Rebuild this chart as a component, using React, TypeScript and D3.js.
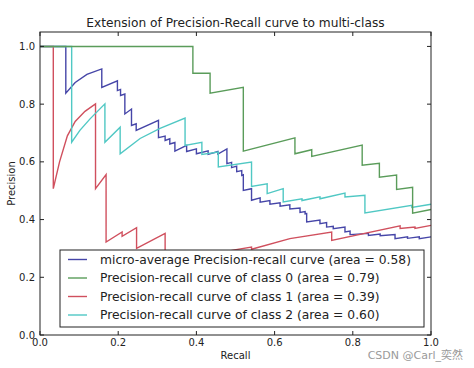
import React from "react";
import * as d3 from "d3";

const W = 474;
const H = 368;

const xTicks = [0, 0.2, 0.4, 0.6, 0.8, 1.0];
const yTicks = [0, 0.2, 0.4, 0.6, 0.8, 1.0];

const microRecall = [0, 0.066, 0.066, 0.09, 0.12, 0.158, 0.158, 0.198, 0.198, 0.206, 0.206, 0.217, 0.217, 0.234, 0.234, 0.246, 0.246, 0.303, 0.303, 0.32, 0.32, 0.332, 0.332, 0.345, 0.345, 0.375, 0.375, 0.4, 0.4, 0.43, 0.43, 0.455, 0.455, 0.478, 0.478, 0.49, 0.49, 0.503, 0.503, 0.516, 0.516, 0.52, 0.52, 0.541, 0.541, 0.563, 0.563, 0.588, 0.588, 0.614, 0.614, 0.639, 0.639, 0.665, 0.665, 0.678, 0.678, 0.682, 0.682, 0.716, 0.716, 0.733, 0.733, 0.75, 0.75, 0.78, 0.78, 0.793, 0.793, 0.84, 0.84, 0.87, 0.87, 0.908, 0.908, 0.94, 0.94, 0.97, 0.97, 1.0];
const microPrecision = [1, 1, 0.838, 0.875, 0.903, 0.922, 0.858, 0.881, 0.847, 0.851, 0.83, 0.835, 0.766, 0.783, 0.726, 0.732, 0.709, 0.744, 0.684, 0.689, 0.674, 0.68, 0.662, 0.667, 0.637, 0.657, 0.636, 0.645, 0.628, 0.638, 0.626, 0.636, 0.627, 0.645, 0.594, 0.598, 0.58, 0.585, 0.566, 0.57, 0.553, 0.555, 0.501, 0.507, 0.467, 0.475, 0.46, 0.466, 0.453, 0.458, 0.446, 0.451, 0.437, 0.44, 0.425, 0.428, 0.42, 0.421, 0.392, 0.398, 0.386, 0.39, 0.374, 0.377, 0.368, 0.374, 0.357, 0.36, 0.348, 0.352, 0.345, 0.35, 0.344, 0.348, 0.334, 0.34, 0.335, 0.34, 0.334, 0.34];

const class0Recall = [0, 0.391, 0.391, 0.435, 0.435, 0.52, 0.52, 0.652, 0.652, 0.695, 0.695, 0.824, 0.824, 0.868, 0.868, 0.912, 0.912, 0.953, 0.953, 1.0];
const class0Precision = [1, 1, 0.907, 0.907, 0.838, 0.858, 0.637, 0.683, 0.628, 0.642, 0.619, 0.658, 0.588, 0.595, 0.547, 0.554, 0.504, 0.512, 0.422, 0.435];

const class1Recall = [0, 0.034, 0.034, 0.05, 0.07, 0.09, 0.115, 0.142, 0.142, 0.169, 0.169, 0.21, 0.21, 0.247, 0.247, 0.32, 0.32, 0.38, 0.38, 0.45, 0.45, 0.494, 0.541, 0.541, 0.639, 0.746, 0.746, 0.921, 0.921, 0.959, 0.959, 1.0];
const class1Precision = [1, 1, 0.507, 0.6, 0.69, 0.74, 0.775, 0.801, 0.507, 0.556, 0.322, 0.357, 0.342, 0.372, 0.3, 0.352, 0.262, 0.28, 0.27, 0.288, 0.28, 0.294, 0.305, 0.297, 0.334, 0.357, 0.328, 0.378, 0.369, 0.374, 0.369, 0.38];

const class2Recall = [0, 0.081, 0.081, 0.102, 0.128, 0.166, 0.166, 0.205, 0.205, 0.256, 0.307, 0.371, 0.371, 0.414, 0.414, 0.456, 0.456, 0.541, 0.541, 0.581, 0.581, 0.622, 0.622, 0.67, 0.67, 0.716, 0.716, 0.78, 0.78, 0.831, 0.831, 0.951, 0.951, 1.0];
const class2Precision = [1, 1, 0.668, 0.709, 0.749, 0.801, 0.668, 0.72, 0.628, 0.681, 0.716, 0.752, 0.657, 0.668, 0.626, 0.634, 0.582, 0.599, 0.515, 0.524, 0.49, 0.507, 0.461, 0.472, 0.466, 0.479, 0.472, 0.492, 0.478, 0.484, 0.423, 0.449, 0.442, 0.453];

const seriesLabels = [
  "micro-average Precision-recall curve (area = 0.58)",
  "Precision-recall curve of class 0 (area = 0.79)",
  "Precision-recall curve of class 1 (area = 0.39)",
  "Precision-recall curve of class 2 (area = 0.60)",
];
const seriesColors = ["#4646a8", "#5a9c5a", "#d0505e", "#50c8c4"];

const titleText = "Extension of Precision-Recall curve to multi-class";
const xLabel = "Recall";
const yLabel = "Precision";
const watermark = "CSDN @Carl_奕然";

export default function App() {
  const left = 40, right = 431, top = 32, bottom = 335;
  const x = d3.scaleLinear().domain([0, 1]).range([left, right]);
  const y = d3.scaleLinear().domain([0, 1.05]).range([bottom, top]);
  const fmt = d3.format(".1f");

  const series = [
    { r: microRecall, p: microPrecision },
    { r: class0Recall, p: class0Precision },
    { r: class1Recall, p: class1Precision },
    { r: class2Recall, p: class2Precision },
  ];
  const line = d3
    .line<[number, number]>()
    .x((d) => x(d[0]))
    .y((d) => y(d[1]));
  const drawOrder = [0, 2, 3, 1];

  const font = "'DejaVu Sans', sans-serif";
  const tickLen = 4;

  const legX = 60, legY = 250, legW = 364, legH = 77;
  const legRowY = [259.5, 278, 296.5, 315];

  return (
    <svg
      width={W}
      height={H}
      style={{ position: "absolute", left: 0, top: 0, background: "#fff" }}
      fontFamily={font}
    >
      <rect x={0} y={0} width={W} height={H} fill="#fff" />
      <text x={(left + right) / 2} y={27} textAnchor="middle" fontSize={12.2} fill="#222">
        {titleText}
      </text>

      <g>
        {drawOrder.map((i) => (
          <path
            key={i}
            d={line(series[i].r.map((r, k) => [r, series[i].p[k]] as [number, number])) || ""}
            fill="none"
            stroke={seriesColors[i]}
            strokeWidth={1.4}
          />
        ))}
      </g>

      <rect x={left} y={top} width={right - left} height={bottom - top} fill="none" stroke="#222" strokeWidth={1} />

      {xTicks.map((t) => (
        <g key={"x" + t}>
          <line x1={x(t)} x2={x(t)} y1={bottom} y2={bottom - tickLen} stroke="#222" />
          <line x1={x(t)} x2={x(t)} y1={top} y2={top + tickLen} stroke="#222" />
          <text x={x(t)} y={346} textAnchor="middle" fontSize={10} fill="#222">
            {fmt(t)}
          </text>
        </g>
      ))}
      {yTicks.map((t) => (
        <g key={"y" + t}>
          <line x1={left} x2={left + tickLen} y1={y(t)} y2={y(t)} stroke="#222" />
          <line x1={right} x2={right - tickLen} y1={y(t)} y2={y(t)} stroke="#222" />
          <text x={35} y={y(t) + 3.5} textAnchor="end" fontSize={10} fill="#222">
            {fmt(t)}
          </text>
        </g>
      ))}

      <text x={(left + right) / 2} y={359} textAnchor="middle" fontSize={10} fill="#222">
        {xLabel}
      </text>
      <text
        transform={`translate(15, ${(top + bottom) / 2}) rotate(-90)`}
        textAnchor="middle"
        fontSize={10}
        fill="#222"
      >
        {yLabel}
      </text>

      <g>
        <rect x={legX} y={legY} width={legW} height={legH} fill="#fff" stroke="#222" strokeWidth={1} />
        {seriesLabels.map((lab, i) => (
          <g key={lab}>
            <line x1={68} x2={87} y1={legRowY[i]} y2={legRowY[i]} stroke={seriesColors[i]} strokeWidth={1.4} />
            <text x={100} y={legRowY[i] + 4.3} fontSize={12.3} fill="#222">
              {lab}
            </text>
          </g>
        ))}
      </g>

      <text
        x={463}
        y={359}
        textAnchor="end"
        fontSize={11}
        fill="#9a9a9a"
        fontFamily="'DejaVu Sans', 'Noto Sans CJK SC', sans-serif"
      >
        {watermark}
      </text>
    </svg>
  );
}
